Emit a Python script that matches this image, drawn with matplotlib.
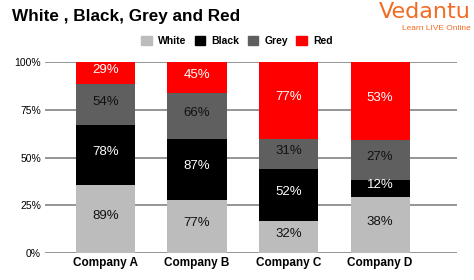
import numpy as np
import matplotlib.pyplot as plt
from matplotlib.patches import Patch

plt.rcParams['font.family'] = ['Liberation Sans', 'DejaVu Sans']

companies = ['Company A', 'Company B', 'Company C', 'Company D']
series = ['White', 'Black', 'Grey', 'Red']
white = [89, 77, 32, 38]
black = [78, 87, 52, 12]
grey = [54, 66, 31, 27]
red = [29, 45, 77, 53]
colors = ['#bcbcbc', '#000000', '#5f5f5f', '#ff0000']
text_colors = ['#111111', 'white', '#111111', 'white']

values = np.array([white, black, grey, red], dtype=float)
share = values / values.sum(axis=0) * 100

fig = plt.figure(figsize=(4.74, 2.80), dpi=100)
ax = fig.add_axes([45/474, 1-253/280, (457-45)/474, (253-62)/280])

x = np.arange(len(companies))
bottom = np.zeros(len(companies))
for i in range(len(series)):
    ax.bar(x, share[i], bottom=bottom, width=0.645, color=colors[i], zorder=2)
    for j in range(len(companies)):
        ax.text(x[j], bottom[j] + share[i][j] / 2 + 1.5, '%d%%' % values[i][j],
                ha='center', va='center', fontsize=9.5, color=text_colors[i], zorder=3)
    bottom += share[i]

ax.set_xlim(-0.66, 3.84)
ax.set_ylim(0, 100)
ax.set_yticks([0, 25, 50, 75, 100])
ax.set_yticklabels(['0%', '25%', '50%', '75%', '100%'], fontsize=7.5)
ax.set_xticks(x)
ax.set_xticklabels(companies, fontsize=8.5, fontweight='bold')
ax.yaxis.grid(True, color='#8c8c8c', linewidth=1.3, zorder=1)
ax.tick_params(length=0, pad=3)
for s in ax.spines.values():
    s.set_visible(False)

fig.text(12/474, 1-16/280, 'White , Black, Grey and Red', fontsize=12.3,
         fontweight='bold', va='center', ha='left')

handles = [Patch(color=c) for c in colors]
fig.legend(handles, series, loc='center', bbox_to_anchor=(237/474, 1-41/280),
           ncol=4, frameon=False, prop={'weight': 'bold', 'size': 7.5},
           handlelength=1.0, handleheight=1.0, columnspacing=0.8, handletextpad=0.6)

fig.text(471/474, 1-12/280, 'Vedantu', fontsize=16, color='#f26b21',
         ha='right', va='center', family='DejaVu Sans')
fig.text(471/474, 1-29/280, 'Learn LIVE Online', fontsize=6, color='#f26b21',
         ha='right', va='center')

fig.savefig('out.png', dpi=100)
